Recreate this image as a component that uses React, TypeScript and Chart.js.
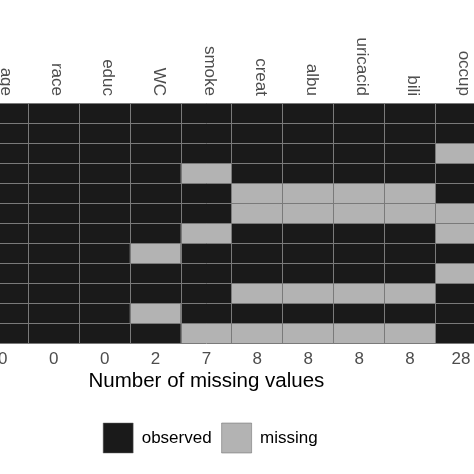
import React, { useEffect, useRef } from 'react';
import { Chart, registerables } from 'chart.js';

Chart.register(...registerables);

// Variables in column order and the number of missing values in each
const variables = ['age', 'race', 'educ', 'WC', 'smoke', 'creat', 'albu', 'uricacid', 'bili', 'occup'];
const missingCounts = [0, 0, 0, 2, 7, 8, 8, 8, 8, 28];

// Missing-data patterns, one row per pattern (1 = missing, 0 = observed)
const pattern01 = [0, 0, 0, 0, 0, 0, 0, 0, 0, 0];
const pattern02 = [0, 0, 0, 0, 0, 0, 0, 0, 0, 0];
const pattern03 = [0, 0, 0, 0, 0, 0, 0, 0, 0, 1];
const pattern04 = [0, 0, 0, 0, 1, 0, 0, 0, 0, 0];
const pattern05 = [0, 0, 0, 0, 0, 1, 1, 1, 1, 0];
const pattern06 = [0, 0, 0, 0, 0, 1, 1, 1, 1, 1];
const pattern07 = [0, 0, 0, 0, 1, 0, 0, 0, 0, 1];
const pattern08 = [0, 0, 0, 1, 0, 0, 0, 0, 0, 0];
const pattern09 = [0, 0, 0, 0, 0, 0, 0, 0, 0, 1];
const pattern10 = [0, 0, 0, 0, 0, 1, 1, 1, 1, 0];
const pattern11 = [0, 0, 0, 1, 0, 0, 0, 0, 0, 0];
const pattern12 = [0, 0, 0, 0, 1, 1, 1, 1, 1, 0];
const patterns = [
  pattern01, pattern02, pattern03, pattern04, pattern05, pattern06,
  pattern07, pattern08, pattern09, pattern10, pattern11, pattern12,
];

const legendLabels = ['observed', 'missing'];
const axisTitle = 'Number of missing values';

const OBSERVED = '#1a1a1a';
const MISSING = '#b3b3b3';
const GRID = '#7a7a7a';
const FONT = '"Liberation Sans", Arial, Helvetica, sans-serif';

// A spacer column sits left of the first variable
const categories = ['', ...variables];

// Variable names, rotated, above each column
const topLabels = {
  id: 'topLabels',
  afterDraw(chart: any) {
    const { ctx, chartArea } = chart;
    const xScale = chart.scales.x;
    ctx.save();
    ctx.font = `17px ${FONT}`;
    ctx.fillStyle = '#4d4d4d';
    ctx.textAlign = 'right';
    ctx.textBaseline = 'middle';
    variables.forEach((name, i) => {
      const px = xScale.getPixelForValue(i + 1);
      ctx.save();
      ctx.translate(px + 3, chartArea.top - 7);
      ctx.rotate(Math.PI / 2);
      ctx.fillText(name, 0, 0);
      ctx.restore();
    });
    ctx.restore();
  },
};

// Nudge the legend block a little to the right of the plot centre
const legendNudge = {
  id: 'legendNudge',
  afterLayout(chart: any) {
    const legend = chart.legend;
    if (!legend) return;
    legend.left += 4;
    legend.right += 4;
  },
};

export default function App() {
  const canvasRef = useRef<HTMLCanvasElement | null>(null);

  useEffect(() => {
    const canvas = canvasRef.current;
    if (!canvas) return;

    const datasets = patterns.map((row, r) => ({
      label: `pattern ${r + 1}`,
      data: [null, ...row.map(() => [r, r + 1])],
      backgroundColor: [OBSERVED, ...row.map((m) => (m ? MISSING : OBSERVED))],
      borderWidth: 0,
      grouped: false,
      barPercentage: 1,
      categoryPercentage: 1,
    }));

    const chart = new Chart(canvas, {
      type: 'bar',
      data: { labels: categories, datasets: datasets as any },
      plugins: [topLabels, legendNudge],
      options: {
        animation: false,
        responsive: false,
        layout: { padding: { top: 103, left: 6.5, right: 16.6, bottom: 11 } },
        plugins: {
          tooltip: { enabled: false },
          legend: {
            position: 'bottom',
            onClick: () => {},
            labels: {
              boxWidth: 30,
              boxHeight: 30,
              padding: 10,
              color: '#000',
              font: { size: 17, family: FONT },
              generateLabels: () =>
                legendLabels.map((text, i) => ({
                  text,
                  fillStyle: i === 0 ? OBSERVED : MISSING,
                  strokeStyle: '#666',
                  lineWidth: 0.5,
                  hidden: false,
                  datasetIndex: i,
                })),
            },
          },
        },
        scales: {
          x: {
            type: 'category',
            position: 'bottom',
            offset: true,
            border: { display: false },
            grid: { display: true, offset: true, color: GRID, lineWidth: 1, drawTicks: false, z: 1 },
            ticks: {
              autoSkip: false,
              maxRotation: 0,
              minRotation: 0,
              padding: 6,
              color: '#4d4d4d',
              font: { size: 17, family: FONT },
              callback: (_v: any, i: number) => (i === 0 ? '' : String(missingCounts[i - 1])),
            },
            title: {
              display: true,
              text: axisTitle,
              color: '#000',
              font: { size: 20.5, family: FONT },
              padding: { top: 4, bottom: 19.7 },
            },
            afterFit: (s: any) => {
              s.height = 70;
            },
          },
          y: {
            type: 'linear',
            min: 0,
            max: 12,
            reverse: true,
            border: { display: false },
            grid: { color: GRID, lineWidth: 1, drawTicks: false, z: 1 },
            ticks: { display: false, stepSize: 1 },
            afterFit: (s: any) => {
              s.width = 0;
            },
          },
        },
      } as any,
    });

    return () => chart.destroy();
  }, []);

  return (
    <div
      style={{
        position: 'fixed',
        left: 0,
        top: 0,
        width: 474,
        height: 474,
        overflow: 'hidden',
        background: '#fff',
      }}
    >
      <div style={{ position: 'absolute', left: -80, top: 0, width: 583, height: 474 }}>
        <canvas ref={canvasRef} width={583} height={474} style={{ display: 'block' }} />
      </div>
    </div>
  );
}
